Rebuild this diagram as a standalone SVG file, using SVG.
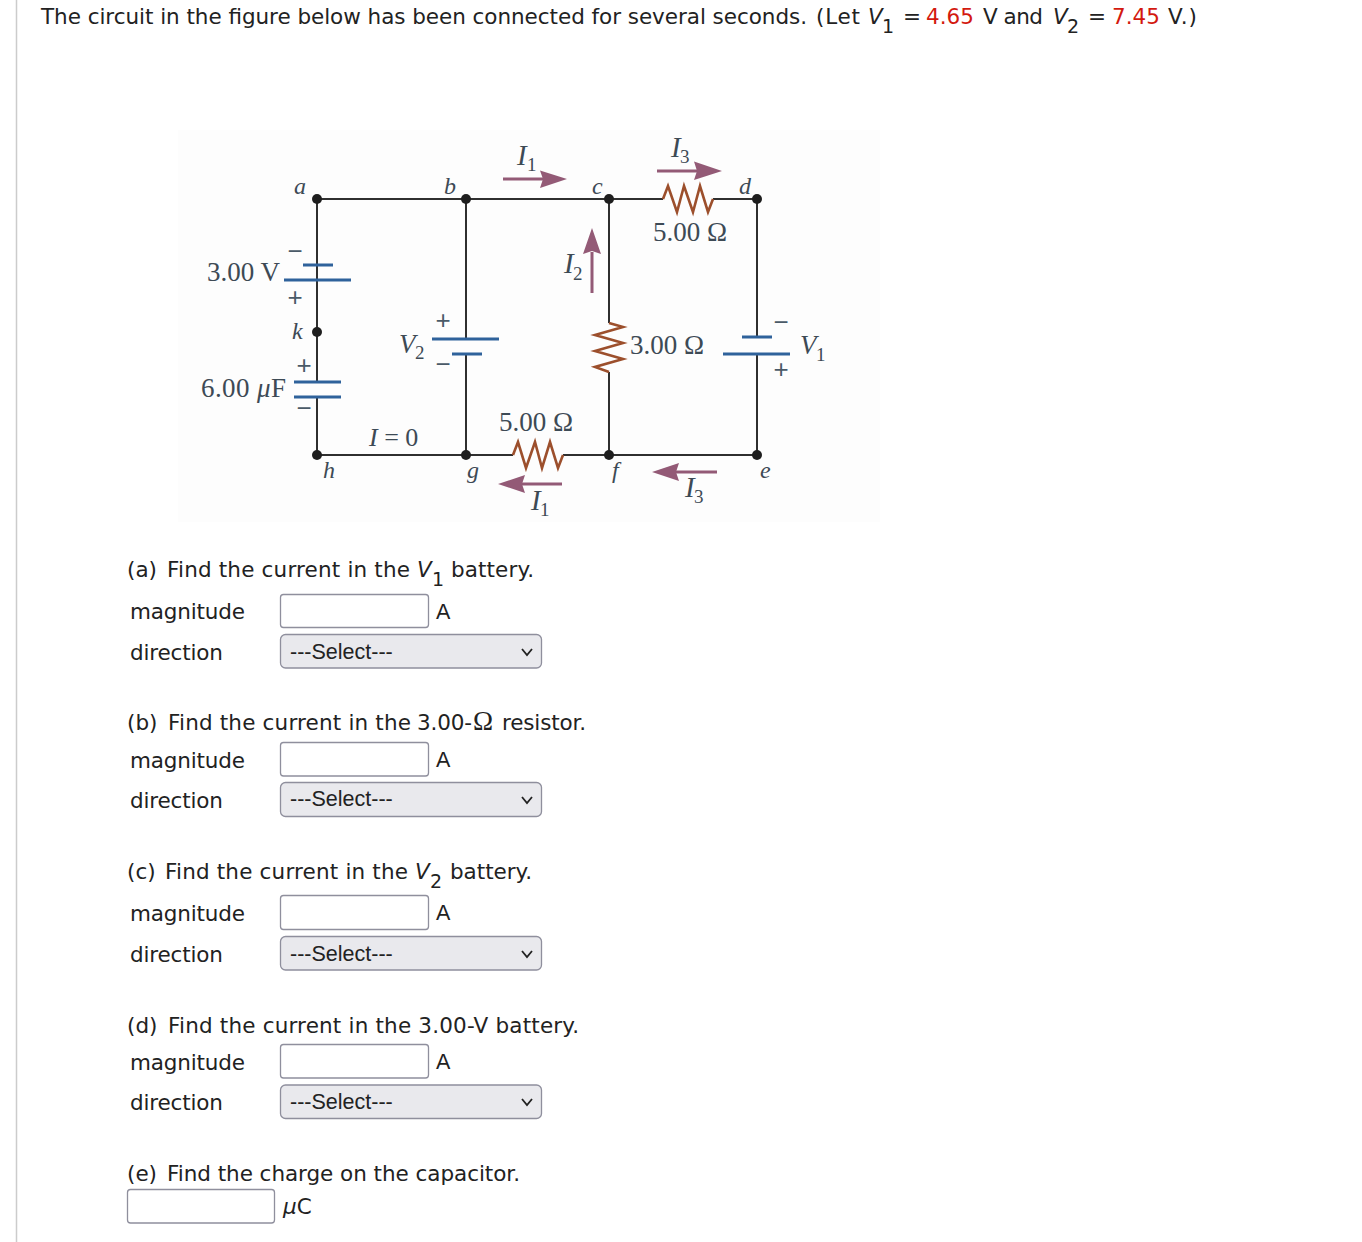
<svg xmlns="http://www.w3.org/2000/svg" width="1362" height="1242" viewBox="0 0 1362 1242">
<style>
.t{font-family:"DejaVu Sans",Verdana,sans-serif;font-size:21.5px;fill:#222}
.i{font-style:italic}
.s{font-family:"DejaVu Sans",Verdana,sans-serif;font-size:19px;fill:#222}
.r{fill:#d3190f}
.u{font-family:"Liberation Sans",Arial,sans-serif;font-size:21.5px;fill:#222}
.sel{font-family:"Liberation Sans",Arial,sans-serif;font-size:21.5px;fill:#222}
.f{font-family:"Liberation Serif","Times New Roman",serif;font-size:27px;fill:#3d4a55}
.fi{font-family:"Liberation Serif","Times New Roman",serif;font-size:24px;font-style:italic;fill:#3d4a55}
.fs{font-family:"Liberation Serif","Times New Roman",serif;font-size:19px;fill:#3d4a55}
.ps{font-family:"Liberation Sans",Arial,sans-serif;font-size:26px;fill:#4a5a68;text-anchor:middle}
.w{stroke:#2f2f2f;stroke-width:2;fill:none}
.p{stroke:#2f629b;stroke-width:3.2;fill:none}
.z{stroke:#9c4f2c;stroke-width:2.6;fill:none;stroke-linejoin:miter}
.a{stroke:#935a76;stroke-width:3;fill:none}
.h{fill:#935a76}
.d{fill:#1e1e1e}
.in{fill:#fff;stroke:#8f8f9d;stroke-width:1.3}
.se{fill:#e9e9ed;stroke:#8f8f9d;stroke-width:1.3}
.ch{fill:none;stroke:#222;stroke-width:1.8}
</style>
<rect width="1362" height="1242" fill="#fff"/>
<line x1="16.500" y1="0" x2="16.500" y2="1242" stroke="#ccc" stroke-width="1.500"/>
<rect x="178" y="130" width="702" height="392" fill="#fdfdfd"/>

<g id="question">
<text class="t" x="41" y="24" textLength="766" lengthAdjust="spacing">The circuit in the figure below has been connected for several seconds.</text>
<text class="t" x="816" y="24" textLength="44">(Let</text>
<text class="t i" x="868" y="24">V</text><text class="s" x="882" y="33">1</text>
<text class="t" x="903" y="24">=</text><text class="t r" x="926" y="24" textLength="48">4.65</text><text class="t" x="983" y="24" textLength="60">V and</text>
<text class="t i" x="1053" y="24">V</text><text class="s" x="1067" y="33">2</text>
<text class="t" x="1088" y="24">=</text><text class="t r" x="1112" y="24" textLength="48">7.45</text><text class="t" x="1168" y="24" textLength="29">V.)</text>
</g>

<g id="connectors">
<path class="w" d="M317 199H663M713 199H757V337M757 354V455H563M513 455H317V397M317 382V332M317 280V199M317 332V280M466 199V339M466 354V455M609 199V323M609 372V455"/>
<path class="p" d="M303 265H333M284 280H351M294 382H341M294 397H341M432 339H499M452 354H482M742 337H772M723 354H790"/>
<path class="z" d="M663 199L668 186L677 212L684 186L693 212L700 186L708 212L713 199"/>
<path class="z" d="M513 455L518 442L526 468L535 442L542 468L550 442L558 468L563 455"/>
<path class="z" d="M609 323L623 327L595 335L623 343L595 351L623 359L595 367L609 372"/>
<path class="a" d="M503 179H545M657 171H697M592 293V252M562 484H520M717 472H675"/>
<path class="h" d="M567 179L540 170.500L543 179L540 188Z"/>
<path class="h" d="M722 171L694 161.500L697 171L694 180Z"/>
<path class="h" d="M592 228L583 254L592 251L601 254Z"/>
<path class="h" d="M498 484L525 475L522 484L525 493Z"/>
<path class="h" d="M652 472L679 463L676 472L679 481Z"/>
</g>

<g id="node-a"><circle class="d" cx="317" cy="199" r="5"/><text class="fi" x="294" y="194">a</text></g>
<g id="node-b"><circle class="d" cx="466" cy="199" r="5"/><text class="fi" x="444" y="194">b</text></g>
<g id="node-c"><circle class="d" cx="609" cy="199" r="5"/><text class="fi" x="592" y="194" font-size="22">c</text></g>
<g id="node-d"><circle class="d" cx="757" cy="199" r="5"/><text class="fi" x="739" y="194">d</text></g>
<g id="node-k"><circle class="d" cx="317" cy="332" r="5"/><text class="fi" x="292" y="339">k</text></g>
<g id="node-h"><circle class="d" cx="317" cy="455" r="5"/><text class="fi" x="323" y="478">h</text></g>
<g id="node-g"><circle class="d" cx="466" cy="455" r="5"/><text class="fi" x="467" y="478">g</text></g>
<g id="node-f"><circle class="d" cx="609" cy="455" r="5"/><text class="fi" x="612" y="478">f</text></g>
<g id="node-e"><circle class="d" cx="757" cy="455" r="5"/><text class="fi" x="760" y="478">e</text></g>

<g id="labels">
<text class="f" x="207" y="281">3.00 V</text>
<text class="f" x="201" y="397" textLength="85">6.00 <tspan font-style="italic">μ</tspan>F</text>
<text class="ps" x="295" y="306">+</text><text class="ps" x="295" y="260">−</text>
<text class="ps" x="304" y="374">+</text><text class="ps" x="304" y="417">−</text>
<text class="ps" x="443" y="329">+</text><text class="ps" x="443" y="373">−</text>
<text class="ps" x="781" y="378">+</text><text class="ps" x="781" y="331">−</text>
<text class="fi" x="399" y="353" style="font-size:27px">V</text><text class="fs" x="415" y="359">2</text>
<text class="fi" x="800" y="354" style="font-size:27px">V</text><text class="fs" x="816" y="361">1</text>
<text class="fi" x="369" y="446" style="font-size:26px">I<tspan font-style="normal"> = 0</tspan></text>
<text class="f" x="653" y="241">5.00 Ω</text>
<text class="f" x="630" y="354">3.00 Ω</text>
<text class="f" x="499" y="431">5.00 Ω</text>
<text class="fi" x="517" y="165" style="font-size:29px">I</text><text class="fs" x="527" y="171">1</text>
<text class="fi" x="671" y="157" style="font-size:29px">I</text><text class="fs" x="680" y="163">3</text>
<text class="fi" x="564" y="273" style="font-size:29px">I</text><text class="fs" x="573" y="280">2</text>
<text class="fi" x="531" y="510" style="font-size:29px">I</text><text class="fs" x="540" y="516">1</text>
<text class="fi" x="685" y="497" style="font-size:29px">I</text><text class="fs" x="694" y="503">3</text>
</g>

<g id="part-a">
<text class="t" x="127" y="577">(a)</text><text class="t" x="167" y="577" textLength="243">Find the current in the</text><text class="t i" x="417" y="577">V</text><text class="s" x="432" y="586">1</text><text class="t" x="451" y="577" textLength="83">battery.</text>
<text class="t" x="130" y="619" textLength="115">magnitude</text><rect class="in" x="280.500" y="594.500" width="148" height="33" rx="3"/><text class="u" x="436" y="619">A</text>
<text class="t" x="130" y="660" textLength="93">direction</text><rect class="se" x="280.500" y="634.500" width="261" height="33.500" rx="5"/><text class="sel" x="290" y="659">---Select---</text><path class="ch" d="M522 649L527 655L532 649"/>
</g>
<g id="part-b">
<text class="t" x="127" y="730">(b)</text><text class="t" x="168" y="730" textLength="243">Find the current in the</text><text class="t" x="417" y="730" textLength="55">3.00-</text><text class="f" x="473" y="730" style="font-size:27px;fill:#222">Ω</text><text class="t" x="502" y="730" textLength="84">resistor.</text>
<text class="t" x="130" y="768" textLength="115">magnitude</text><rect class="in" x="280.500" y="742.500" width="148" height="33.500" rx="3"/><text class="u" x="436" y="767">A</text>
<text class="t" x="130" y="808" textLength="93">direction</text><rect class="se" x="280.500" y="782.500" width="261" height="34" rx="5"/><text class="sel" x="290" y="806">---Select---</text><path class="ch" d="M522 797L527 803L532 797"/>
</g>
<g id="part-c">
<text class="t" x="127" y="878.500">(c)</text><text class="t" x="165" y="878.500" textLength="243">Find the current in the</text><text class="t i" x="415" y="878.500">V</text><text class="s" x="430" y="888">2</text><text class="t" x="450" y="878.500" textLength="82">battery.</text>
<text class="t" x="130" y="921" textLength="115">magnitude</text><rect class="in" x="280.500" y="895.500" width="148" height="34" rx="3"/><text class="u" x="436" y="920">A</text>
<text class="t" x="130" y="962" textLength="93">direction</text><rect class="se" x="280.500" y="936.500" width="261" height="33.500" rx="5"/><text class="sel" x="290" y="961">---Select---</text><path class="ch" d="M522 951L527 957L532 951"/>
</g>
<g id="part-d">
<text class="t" x="127" y="1032.500">(d)</text><text class="t" x="168" y="1032.500" textLength="411">Find the current in the 3.00-V battery.</text>
<text class="t" x="130" y="1070" textLength="115">magnitude</text><rect class="in" x="280.500" y="1044.500" width="148" height="33.500" rx="3"/><text class="u" x="436" y="1069">A</text>
<text class="t" x="130" y="1110" textLength="93">direction</text><rect class="se" x="280.500" y="1085" width="261" height="33.500" rx="5"/><text class="sel" x="290" y="1109">---Select---</text><path class="ch" d="M522 1099L527 1105L532 1099"/>
</g>
<g id="part-e">
<text class="t" x="127" y="1180.500">(e)</text><text class="t" x="167" y="1180.500" textLength="353">Find the charge on the capacitor.</text>
<rect class="in" x="127.500" y="1189.500" width="147" height="33.500" rx="3"/><text class="t" x="283" y="1213.500"><tspan class="i">μ</tspan>C</text>
</g>
</svg>
